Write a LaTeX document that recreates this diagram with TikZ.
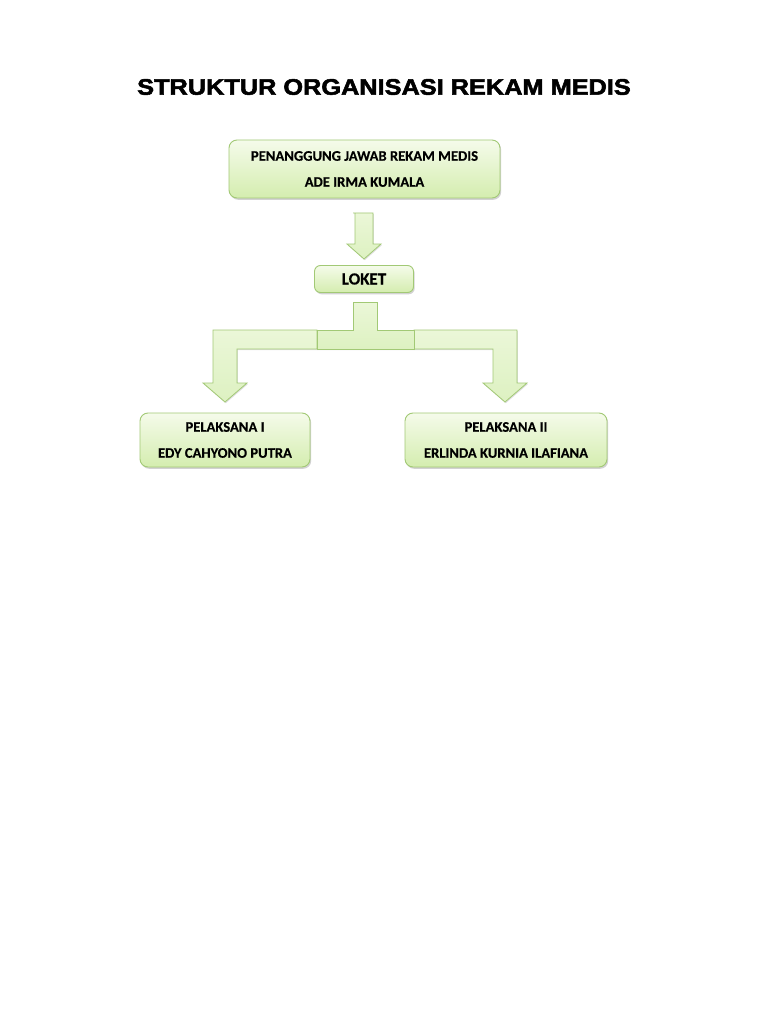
\documentclass[tikz,border=0pt]{standalone}
\usepackage{fontspec}
\setmainfont{Carlito}[BoldFeatures={FakeBold=0.3}]
\newfontfamily\titlefont{Liberation Sans}[BoldFeatures={FakeBold=2.2}]
\usetikzlibrary{shadows}
\definecolor{boxtop}{HTML}{F5FBEA}
\definecolor{boxbot}{HTML}{D4EDAF}
\definecolor{boxline}{HTML}{A2C975}
\definecolor{arrtop}{HTML}{EBF7D8}
\definecolor{arrbot}{HTML}{DDF1C1}
\tikzset{
  orgbox/.style={draw=boxline, line width=0.9pt, rounded corners=8pt,
    top color=boxtop, bottom color=boxbot, inner sep=0pt,
    drop shadow={shadow xshift=1.2pt, shadow yshift=-1.8pt, opacity=0.35, fill=gray},
    font=\bfseries\fontsize{14.6}{17}\selectfont, align=center},
  blockarrow/.style={draw=boxline, line width=0.8pt, top color=arrtop, bottom color=arrbot, line join=miter,
    drop shadow={shadow xshift=0.8pt, shadow yshift=-1.2pt, opacity=0.25, fill=gray}}
}
\begin{document}
\begin{tikzpicture}[x=1pt,y=-1pt]
\useasboundingbox (0,0) rectangle (768,1024);
\fill[white] (0,0) rectangle (768,1024);
\node[font=\titlefont\bfseries\fontsize{22.5}{26}\selectfont] (title) at (384,87) {\scalebox{1.125}[1]{STRUKTUR ORGANISASI REKAM MEDIS}};
\node[orgbox, minimum width=271pt, minimum height=58pt] (pj) at (364.5,169)
  {PENANGGUNG JAWAB REKAM MEDIS\\[9pt]ADE IRMA KUMALA};
\node[orgbox, minimum width=99pt, minimum height=27pt, rounded corners=6pt, font=\bfseries\fontsize{17}{20}\selectfont] (loket) at (364,279) {LOKET};
\node[orgbox, minimum width=170pt, minimum height=54pt] (p1) at (225,440)
  {PELAKSANA I\\[9pt]EDY CAHYONO PUTRA};
\node[orgbox, minimum width=202pt, minimum height=54pt] (p2) at (506,440)
  {PELAKSANA II\\[9pt]ERLINDA KURNIA ILAFIANA};
% arrow from pj to loket
\draw[blockarrow] (353,213) -- (373,213) -- (373,244) -- (381,244) -- (364,259) -- (347,244) -- (355,244) -- (355,213) -- cycle;
% left elbow arrow
\draw[blockarrow] (317,330) -- (213,330) -- (213,383) -- (203,383) -- (225,402) -- (247,383) -- (237,383) -- (237,349) -- (317,349) -- cycle;
% right elbow arrow
\draw[blockarrow] (414,330) -- (517,330) -- (517,383) -- (527,383) -- (505,402) -- (483,383) -- (493,383) -- (493,349) -- (414,349) -- cycle;
% middle T block
\draw[blockarrow] (353,302) -- (377,302) -- (377,330) -- (414,330) -- (414,349) -- (317,349) -- (317,330) -- (353,330) -- cycle;
\end{tikzpicture}
\end{document}
